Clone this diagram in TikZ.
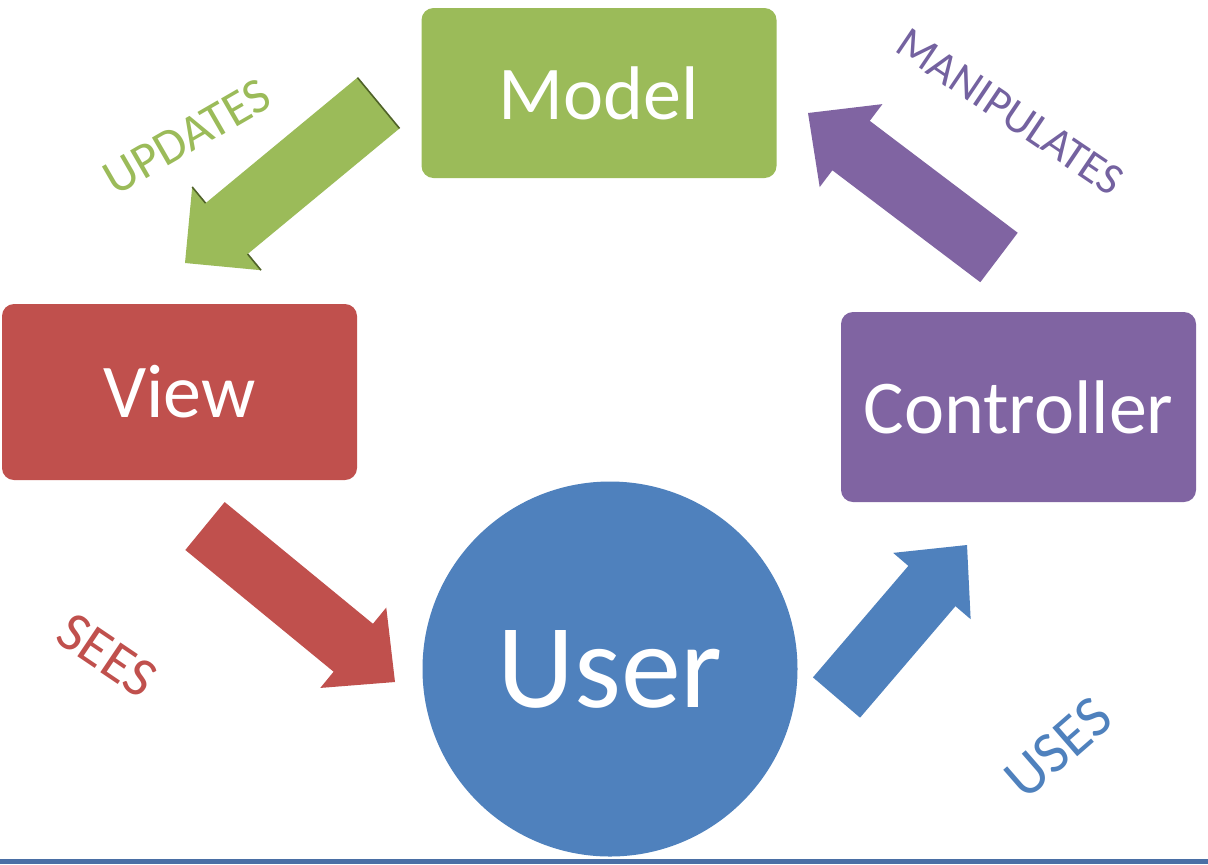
\documentclass[tikz,border=0pt]{standalone}
\usepackage{fontspec}
\setmainfont{Carlito}
\usetikzlibrary{calc}
\definecolor{mgreen}{HTML}{9BBB59}
\definecolor{mred}{HTML}{C0504D}
\definecolor{mpurple}{HTML}{8064A2}
\definecolor{mpurpletxt}{HTML}{7462A0}
\definecolor{mblue}{HTML}{4F81BD}
\definecolor{mline}{HTML}{4A6FA5}
\definecolor{mgreendark}{HTML}{4F6228}
\newcommand\mvcarrow[6]{% tail, tip, base name, colour, shaft half width, head half width
  \coordinate (#3) at ($(#2)!27pt!(#1)$);
  \fill[#4] ($(#1)!#5!90:(#2)$) -- ($(#3)!#5!90:(#2)$) -- ($(#3)!#6!90:(#2)$) -- (#2)
    -- ($(#3)!#6!-90:(#2)$) -- ($(#3)!#5!-90:(#2)$) -- ($(#1)!#5!-90:(#2)$) -- cycle;
}
\tikzset{
  box/.style={rectangle, rounded corners=6pt, minimum width=177.5pt, inner sep=0pt,
    text=white, font=\fontsize{38}{40}\selectfont},
  lbl/.style={inner sep=0pt, font=\fontsize{25}{27}\selectfont}
}
\begin{document}
\begin{tikzpicture}[x=0.5pt,y=-0.5pt]
\useasboundingbox (0,0) rectangle (1208,864);
\fill[white] (0,0) rectangle (1208,864);
\fill[mline] (0,859) rectangle (1208,864);

% nodes
\node[box, fill=mgreen, minimum height=85pt] (model) at (599,93) {Model};
\node[box, fill=mred, minimum height=88pt] (view) at (179.5,392) {View};
\node[box, fill=mpurple, minimum height=95pt] (ctrl) at (1018.5,407) {Controller};
\node[circle, fill=mblue, minimum size=187.5pt, inner sep=0pt, text=white,
      font=\fontsize{60}{62}\selectfont] (user) at (610,669) {User};

% arrow end points
\coordinate (gT) at (378.5,103);  \coordinate (gH) at (185,263);
\coordinate (pT) at (999,257.5);  \coordinate (pH) at (808,113);
\coordinate (rT) at (205,526);    \coordinate (rH) at (395,682);
\coordinate (bT) at (836.5,697.5);\coordinate (bH) at (967,545);

\mvcarrow{gT}{gH}{gB}{mgreen}{16.5pt}{27pt}
\draw[mgreendark, line width=0.8pt] ($(gT)!16.5pt!90:(gH)$) -- ($(gT)!16.5pt!-90:(gH)$);
\draw[mgreendark, line width=0.8pt] ($(gB)!16.5pt!90:(gH)$) -- ($(gB)!27pt!90:(gH)$);
\draw[mgreendark, line width=0.8pt] ($(gB)!16.5pt!-90:(gH)$) -- ($(gB)!27pt!-90:(gH)$);
\mvcarrow{pT}{pH}{pB}{mpurple}{15.5pt}{26pt}
\mvcarrow{rT}{rH}{rB}{mred}{15.5pt}{26pt}
\mvcarrow{bT}{bH}{bB}{mblue}{15.5pt}{25.5pt}

% labels
\node[lbl, text=mgreen, rotate=30] (lupd) at (187,137) {UPDATES};
\node[lbl, text=mpurpletxt, rotate=-34, font=\fontsize{22.5}{24}\selectfont] (lman) at (1010,112) {MANIPULATES};
\node[lbl, text=mred, rotate=-34, font=\fontsize{28}{30}\selectfont] (lsee) at (107,655) {SEES};
\node[lbl, text=mblue, rotate=41, font=\fontsize{29.5}{31}\selectfont] (luse) at (1058,748) {USES};
\end{tikzpicture}
\end{document}
